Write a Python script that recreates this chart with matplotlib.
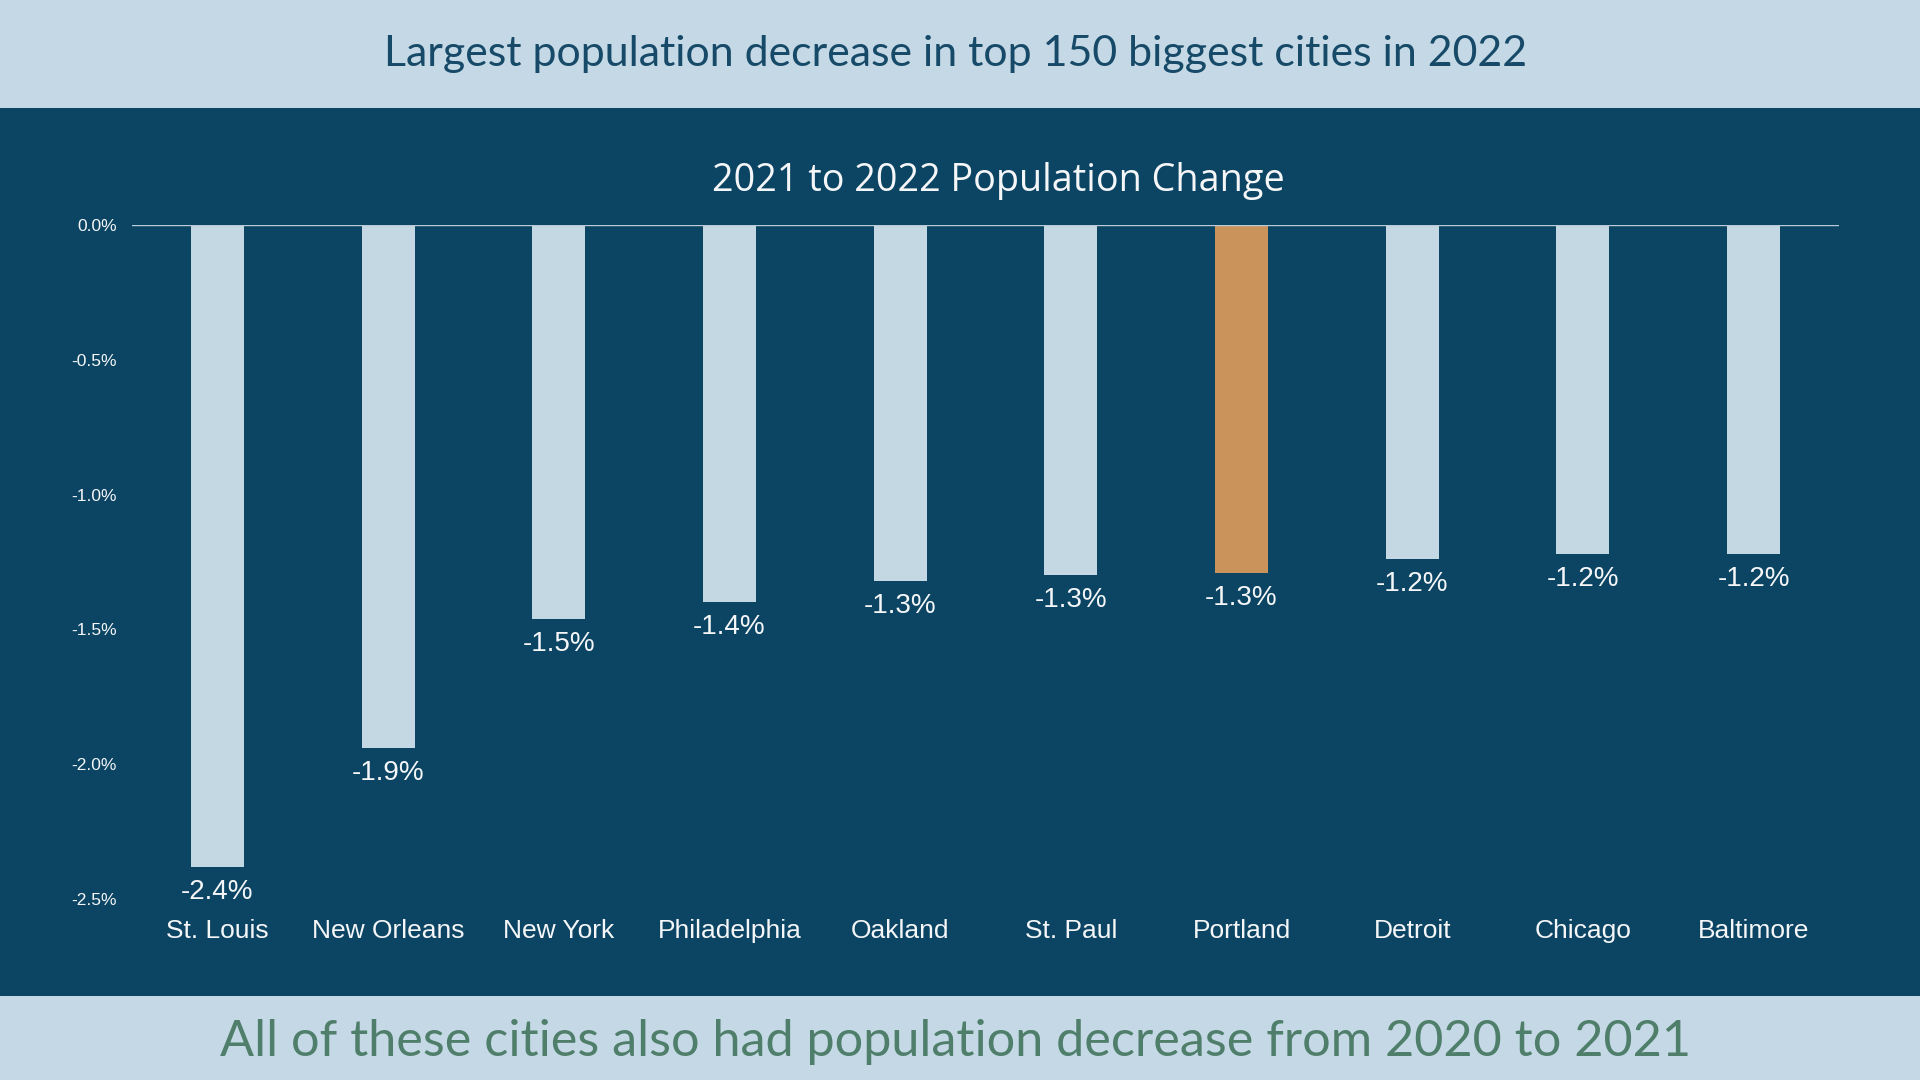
import matplotlib
matplotlib.use("Agg")
import matplotlib.pyplot as plt
from matplotlib.patches import Rectangle
import matplotlib.transforms as mtransforms

cities = ["St. Louis", "New Orleans", "New York", "Philadelphia", "Oakland",
          "St. Paul", "Portland", "Detroit", "Chicago", "Baltimore"]
change_pct = [-2.38, -1.94, -1.46, -1.40, -1.32, -1.30, -1.29, -1.24, -1.22, -1.22]
highlight = "Portland"
yticks = [0.0, -0.5, -1.0, -1.5, -2.0, -2.5]

title = "Largest population decrease in top 150 biggest cities in 2022"
subtitle = "2021 to 2022 Population Change"
footer = "All of these cities also had population decrease from 2020 to 2021"

LIGHT = "#c4d9e5"
DARK = "#0c4563"
BAR = "#c4d8e4"
HIL = "#c9935b"
TXT = "#f4f6f8"

W, H = 1920, 1080
fig = plt.figure(figsize=(W / 100, H / 100), dpi=100)
fig.patch.set_facecolor(LIGHT)

# dark middle band
fig.add_artist(Rectangle((0, 1 - 996 / H), 1, (996 - 108) / H,
                         transform=fig.transFigure, facecolor=DARK, edgecolor="none", zorder=0))

ax = fig.add_axes([132 / W, 1 - 899 / H, (1839 - 132) / W, (899 - 225) / H])
ax.set_facecolor("none")
x = list(range(len(cities)))
colors = [HIL if c == highlight else BAR for c in cities]
ax.bar(x, change_pct, width=0.31, color=colors, zorder=2)
ax.set_xlim(-0.5, len(cities) - 0.5)
ax.set_ylim(-2.5, 0)
ax.axhline(0, color="#b8cbd6", lw=1.0, zorder=3)
for s in ax.spines.values():
    s.set_visible(False)
ax.set_yticks(yticks)
ax.set_yticklabels([f"{v:.1f}%" for v in yticks], fontsize=12.5, color=TXT,
                   fontfamily="Liberation Sans")
ax.tick_params(axis="y", length=0, pad=11)
ax.set_xticks([])

for xi, v in zip(x, change_pct):
    ax.annotate(f"{v:.1f}%", (xi, v), xytext=(0, -25), textcoords="offset pixels",
                ha="center", va="center", fontsize=20, color=TXT,
                fontfamily="Liberation Sans")

trans = mtransforms.blended_transform_factory(ax.transData, fig.transFigure)
for xi, c in zip(x, cities):
    ax.text(xi, 1 - 931 / H, c, transform=trans, ha="center", va="center",
            fontsize=19, color=TXT, fontfamily="Liberation Sans")

t_title = fig.text(956 / W, 1 - 54 / H, title, ha="center", va="center",
                   color="#174a68", fontsize=30, fontfamily="Lato")
t_sub = fig.text(998 / W, 1 - 181 / H, subtitle, ha="center", va="center",
                 color=TXT, fontsize=26, fontfamily="Open Sans")
t_foot = fig.text(956 / W, 1 - 1042 / H, footer, ha="center", va="center",
                  color="#4f7e6b", fontsize=34, fontfamily="Lato")

def fit(t, target):
    fig.canvas.draw()
    r = fig.canvas.get_renderer()
    w = t.get_window_extent(r).width
    t.set_fontsize(t.get_fontsize() * target / w)

fit(t_title, 1146)
fit(t_sub, 574)
fit(t_foot, 1474)

fig.savefig("out.png", dpi=100, facecolor=fig.get_facecolor())
